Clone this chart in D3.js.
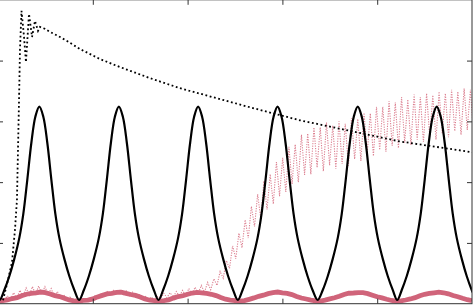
<!DOCTYPE html>
<html lang="en">
<head>
<meta charset="UTF-8">
<title>Chart</title>
<style>
  body { margin: 0; background: #fff; }
  svg { display: block; }
</style>
</head>
<body>
<script src="https://d3js.org/d3.v7.min.js"></script>
<script>
// tick positions (labels are cropped away in the source)
const xTicks = [1, 2, 3, 4];
const yTicks = [1, 2, 3, 4];

// solid black periodic curve [x, y]
const blackSolid = [
  [-0.086, 0.456], [-0.033, 0.226],
  [0.017, 0.061], [0.067, 0.226], [0.120, 0.456], [0.172, 0.737], [0.225, 1.083], [0.267, 1.478], [0.309, 2.039], [0.352, 2.648], [0.394, 3.077],
  [0.436, 3.242], [0.478, 3.077], [0.520, 2.648], [0.563, 2.039], [0.605, 1.478], [0.647, 1.083], [0.700, 0.737], [0.752, 0.456], [0.805, 0.226],
  [0.855, 0.061], [0.906, 0.226], [0.959, 0.456], [1.011, 0.737], [1.064, 1.083], [1.106, 1.478], [1.148, 2.039], [1.191, 2.648], [1.233, 3.077],
  [1.275, 3.242], [1.317, 3.077], [1.359, 2.648], [1.402, 2.039], [1.444, 1.478], [1.486, 1.083], [1.539, 0.737], [1.591, 0.456], [1.644, 0.226],
  [1.693, 0.061], [1.742, 0.226], [1.795, 0.456], [1.847, 0.737], [1.900, 1.083], [1.942, 1.478], [1.984, 2.039], [2.027, 2.648], [2.069, 3.077],
  [2.111, 3.242], [2.153, 3.077], [2.195, 2.648], [2.238, 2.039], [2.280, 1.478], [2.322, 1.083], [2.375, 0.737], [2.427, 0.456], [2.480, 0.226],
  [2.530, 0.061], [2.580, 0.226], [2.633, 0.456], [2.685, 0.737], [2.738, 1.083], [2.780, 1.478], [2.822, 2.039], [2.865, 2.648], [2.907, 3.077],
  [2.949, 3.242], [2.991, 3.077], [3.033, 2.648], [3.076, 2.039], [3.118, 1.478], [3.160, 1.083], [3.213, 0.737], [3.265, 0.456], [3.318, 0.226],
  [3.372, 0.061], [3.426, 0.226], [3.479, 0.456], [3.531, 0.737], [3.584, 1.083], [3.626, 1.478], [3.668, 2.039], [3.711, 2.648], [3.753, 3.077],
  [3.795, 3.242], [3.837, 3.077], [3.879, 2.648], [3.922, 2.039], [3.964, 1.478], [4.006, 1.083], [4.059, 0.737], [4.111, 0.456], [4.164, 0.226],
  [4.211, 0.061], [4.259, 0.226], [4.312, 0.456], [4.364, 0.737], [4.417, 1.083], [4.459, 1.478], [4.501, 2.039], [4.544, 2.648], [4.586, 3.077],
  [4.628, 3.242], [4.670, 3.077], [4.712, 2.648], [4.755, 2.039], [4.797, 1.478], [4.839, 1.083], [4.892, 0.737], [4.944, 0.456], [4.997, 0.226],
  [5.047, 0.061]
];

// dotted black curve [x, y]
const blackDotted = [
  [0.053, 0.058], [0.105, 0.388], [0.148, 0.686], [0.179, 1.215], [0.200, 1.711], [0.211, 2.537],
  [0.222, 3.364], [0.232, 4.190], [0.248, 4.818], [0.274, 4.400], [0.295, 3.975], [0.327, 4.769],
  [0.359, 4.388], [0.390, 4.653], [0.422, 4.488], [0.443, 4.554], [0.496, 4.521], [0.549, 4.471],
  [0.654, 4.388], [0.728, 4.322], [0.865, 4.190], [1.076, 4.025], [1.287, 3.893], [1.603, 3.711],
  [1.920, 3.545], [2.310, 3.380], [2.658, 3.231], [3.186, 3.017], [3.639, 2.868], [4.241, 2.669],
  [5.021, 2.488]
];

// thick pink curve along the bottom [x, y]
const pinkSolid = [
  [0.0, 0.046], [0.05, 0.052], [0.1, 0.062], [0.15, 0.085], [0.2, 0.098], [0.25, 0.132], [0.3, 0.156], [0.35, 0.170],
  [0.4, 0.178], [0.45, 0.192], [0.5, 0.181], [0.55, 0.160], [0.6, 0.133], [0.65, 0.118], [0.7, 0.091], [0.75, 0.062],
  [0.8, 0.047], [0.85, 0.041], [0.9, 0.053], [0.95, 0.060], [1.0, 0.078], [1.05, 0.112], [1.1, 0.137], [1.15, 0.162],
  [1.2, 0.171], [1.25, 0.186], [1.3, 0.188], [1.35, 0.170], [1.4, 0.151], [1.45, 0.136], [1.5, 0.110], [1.55, 0.079],
  [1.6, 0.057], [1.65, 0.052], [1.7, 0.048], [1.75, 0.051], [1.8, 0.063], [1.85, 0.092], [1.9, 0.117], [1.95, 0.131],
  [2.0, 0.156], [2.05, 0.176], [2.1, 0.187], [2.15, 0.180], [2.2, 0.168], [2.25, 0.155], [2.3, 0.133], [2.35, 0.101],
  [2.4, 0.074], [2.45, 0.060], [2.5, 0.050], [2.55, 0.044], [2.6, 0.050], [2.65, 0.072], [2.7, 0.095], [2.75, 0.121],
  [2.8, 0.140], [2.85, 0.166], [2.9, 0.183], [2.95, 0.192], [3.0, 0.178], [3.05, 0.170], [3.1, 0.150], [3.15, 0.118],
  [3.2, 0.093], [3.25, 0.077], [3.3, 0.058], [3.35, 0.047], [3.4, 0.044], [3.45, 0.058], [3.5, 0.079], [3.55, 0.097],
  [3.6, 0.122], [3.65, 0.152], [3.7, 0.172], [3.75, 0.176], [3.8, 0.182], [3.85, 0.181], [3.9, 0.166], [3.95, 0.140],
  [4.0, 0.114], [4.05, 0.096], [4.1, 0.073], [4.15, 0.053], [4.2, 0.043], [4.25, 0.046], [4.3, 0.061], [4.35, 0.078],
  [4.4, 0.099], [4.45, 0.131], [4.5, 0.155], [4.55, 0.168], [4.6, 0.180], [4.65, 0.191], [4.7, 0.180], [4.75, 0.162],
  [4.8, 0.134], [4.85, 0.114], [4.9, 0.089], [4.95, 0.066], [5.0, 0.048]
];

// fast oscillating pink dotted signal: [x, low, high] per swing
const pinkBand = [
  [0.000, 0.04, 0.10], [0.066, 0.05, 0.13], [0.132, 0.07, 0.18], [0.198, 0.09, 0.22], [0.264, 0.12, 0.26],
  [0.330, 0.14, 0.28], [0.396, 0.16, 0.29], [0.462, 0.16, 0.28], [0.528, 0.15, 0.25], [0.594, 0.12, 0.20],
  [0.660, 0.09, 0.15], [0.726, 0.06, 0.11], [0.792, 0.05, 0.08], [0.858, 0.04, 0.08], [0.924, 0.05, 0.10],
  [0.990, 0.07, 0.13], [1.056, 0.10, 0.17], [1.122, 0.13, 0.20], [1.188, 0.15, 0.22], [1.254, 0.16, 0.22],
  [1.320, 0.15, 0.21], [1.386, 0.13, 0.19], [1.452, 0.10, 0.16], [1.518, 0.08, 0.13], [1.584, 0.06, 0.11],
  [1.650, 0.06, 0.12], [1.716, 0.09, 0.17], [1.782, 0.10, 0.18], [1.848, 0.11, 0.20], [1.914, 0.12, 0.22],
  [1.980, 0.13, 0.25], [2.046, 0.15, 0.27], [2.112, 0.17, 0.30], [2.178, 0.19, 0.35], [2.244, 0.23, 0.41],
  [2.310, 0.30, 0.53], [2.376, 0.42, 0.71], [2.442, 0.58, 0.95], [2.508, 0.74, 1.16], [2.574, 0.92, 1.38],
  [2.640, 1.08, 1.60], [2.706, 1.27, 1.80], [2.772, 1.40, 2.02], [2.838, 1.55, 2.13], [2.904, 1.64, 2.33],
  [2.970, 1.77, 2.40], [3.036, 1.84, 2.58], [3.102, 1.97, 2.62], [3.168, 2.00, 2.78], [3.234, 2.12, 2.80],
  [3.300, 2.13, 2.90], [3.366, 2.24, 2.90], [3.432, 2.18, 2.98], [3.498, 2.28, 2.93], [3.564, 2.22, 3.00],
  [3.630, 2.30, 2.96], [3.696, 2.27, 3.05], [3.762, 2.38, 3.04], [3.828, 2.35, 3.14], [3.894, 2.46, 3.13],
  [3.960, 2.43, 3.24], [4.026, 2.53, 3.24], [4.092, 2.50, 3.33], [4.158, 2.60, 3.31], [4.224, 2.56, 3.40],
  [4.290, 2.65, 3.36], [4.356, 2.61, 3.44], [4.422, 2.70, 3.40], [4.488, 2.66, 3.46], [4.554, 2.75, 3.43],
  [4.620, 2.70, 3.49], [4.686, 2.80, 3.46], [4.752, 2.74, 3.52], [4.818, 2.84, 3.49], [4.884, 2.78, 3.54],
  [4.950, 2.86, 3.52], [5.016, 2.80, 3.56]
];

let svgWidth = 474;
let svgHeight = 305;

let x = d3.scaleLinear().domain([0, 5]).range([-2, 472]);
let y = d3.scaleLinear().domain([0, 5]).range([303.7, -0.2]);

let svg = d3.select("body").append("svg")
  .attr("width", svgWidth)
  .attr("height", svgHeight);

svg.append("defs").append("clipPath").attr("id", "plot")
  .append("rect")
  .attr("x", x(0)).attr("y", y(5))
  .attr("width", x(5) - x(0)).attr("height", y(0) - y(5));

let plot = svg.append("g").attr("clip-path", "url(#plot)");

let line = d3.line().x(d => x(d[0])).y(d => y(d[1]));

// pink oscillating band, zigzag between low and high
let zig = [];
pinkBand.forEach(d => { zig.push([d[0], d[1]]); zig.push([d[0] + 0.033, d[2]]); });

plot.append("path")
  .datum(zig)
  .attr("fill", "none")
  .attr("stroke", "#dc8091")
  .attr("stroke-width", 1.1)
  .attr("stroke-dasharray", "1.2,1.3")
  .attr("d", line);

plot.append("path")
  .datum(pinkSolid)
  .attr("fill", "none")
  .attr("stroke", "#d0647a")
  .attr("stroke-width", 4.8)
  .attr("d", line);

plot.append("path")
  .datum(blackSolid)
  .attr("fill", "none")
  .attr("stroke", "#000")
  .attr("stroke-width", 2.2)
  .attr("d", d3.line().x(d => x(d[0])).y(d => y(d[1])).curve(d3.curveCatmullRom.alpha(0.5)));

plot.append("path")
  .datum(blackDotted)
  .attr("fill", "none")
  .attr("stroke", "#000")
  .attr("stroke-width", 1.8)
  .attr("stroke-dasharray", "1.8,2.6")
  .attr("d", line);

// frame and inward ticks
svg.append("rect")
  .attr("x", x(0)).attr("y", y(5))
  .attr("width", x(5) - x(0)).attr("height", y(0) - y(5))
  .attr("fill", "none")
  .attr("stroke", "#333")
  .attr("stroke-width", 1);

function styleAxis(g) {
  g.select(".domain").remove();
  g.selectAll(".tick line").attr("stroke", "#333");
}

svg.append("g").attr("transform", `translate(${x(0)},0)`)
  .call(d3.axisLeft(y).tickValues(yTicks).tickSize(-5).tickFormat(""))
  .call(styleAxis);
svg.append("g").attr("transform", `translate(${x(5)},0)`)
  .call(d3.axisRight(y).tickValues(yTicks).tickSize(-5).tickFormat(""))
  .call(styleAxis);
svg.append("g").attr("transform", `translate(0,${y(5)})`)
  .call(d3.axisTop(x).tickValues(xTicks).tickSize(-5).tickFormat(""))
  .call(styleAxis);
svg.append("g").attr("transform", `translate(0,${y(0)})`)
  .call(d3.axisBottom(x).tickValues(xTicks).tickSize(-5).tickFormat(""))
  .call(styleAxis);
</script>
</body>
</html>
